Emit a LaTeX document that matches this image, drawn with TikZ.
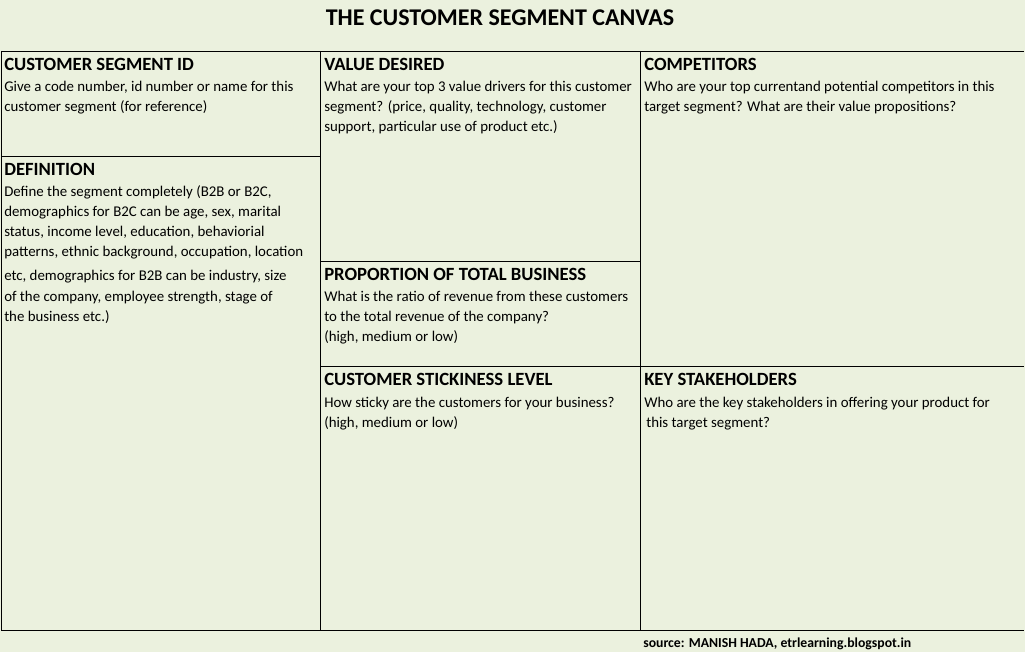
\documentclass[tikz,border=0pt]{standalone}
\usepackage{fontspec}
\setmainfont{Carlito}
\definecolor{bg}{HTML}{EBF1DE}
\begin{document}
\begin{tikzpicture}[x=0.75pt,y=-0.75pt,
  hd/.style={anchor=base west,inner sep=0,font=\fontsize{14}{16}\selectfont\bfseries},
  tx/.style={anchor=base west,inner sep=0,font=\fontsize{11.15}{13}\selectfont},
  ln/.style={draw=black,line width=0.6pt}]
\fill[bg] (0,0) rectangle (1025,652);
\useasboundingbox (0,0) rectangle (1025,652);
\node[inner sep=0,font=\fontsize{18}{21}\selectfont\bfseries] (title) at (500,18) {THE CUSTOMER SEGMENT CANVAS};
\draw[ln] (1,51) -- (1024,51);
\draw[ln] (1,51) -- (1,630);
\draw[ln] (320,51) -- (320,630);
\draw[ln] (640,51) -- (640,630);
\draw[ln] (1,630) -- (1024,630);
\draw[ln] (1,156) -- (320,156);
\draw[ln] (320,261) -- (640,261);
\draw[ln] (320,366) -- (1024,366);
% col 1
\node[hd] (h1) at (4,71) {CUSTOMER SEGMENT ID};
\node[tx] (a1) at (4,92) {Give a code number, id number or name for this};
\node[tx] (a2) at (4,112) {customer segment (for reference)};
\node[hd] (h2) at (4,176) {DEFINITION};
\node[tx] (b1) at (4,197) {Define the segment completely (B2B or B2C,};
\node[tx] (b2) at (4,217) {demographics for B2C can be age, sex, marital};
\node[tx] (b3) at (4,237) {status, income level, education, behaviorial};
\node[tx] (b4) at (4,257) {patterns, ethnic background, occupation, location};
\node[tx] (b5) at (4,281) {etc, demographics for B2B can be industry, size};
\node[tx] (b6) at (4,302) {of the company, employee strength, stage of};
\node[tx] (b7) at (4,322) {the business etc.)};
% col 2
\node[hd] (h3) at (324,71) {VALUE DESIRED};
\node[tx] (c1) at (324,92) {What are your top 3 value drivers for this customer};
\node[tx] (c2) at (324,112) {segment? (price, quality, technology, customer};
\node[tx] (c3) at (324,132) {support, particular use of product etc.)};
\node[hd] (h4) at (324,281) {PROPORTION OF TOTAL BUSINESS};
\node[tx] (d1) at (324,302) {What is the ratio of revenue from these customers};
\node[tx] (d2) at (324,322) {to the total revenue of the company?};
\node[tx] (d3) at (324,342) {(high, medium or low)};
\node[hd] (h5) at (324,386) {CUSTOMER STICKINESS LEVEL};
\node[tx] (e1) at (324,407) {How sticky are the customers for your business?};
\node[tx] (e2) at (324,427) {(high, medium or low)};
% col 3
\node[hd] (h6) at (644,71) {COMPETITORS};
\node[tx] (f1) at (644,92) {Who are your top currentand potential competitors in this};
\node[tx] (f2) at (644,112) {target segment? What are their value propositions?};
\node[hd] (h7) at (644,386) {KEY STAKEHOLDERS};
\node[tx] (g1) at (644,407) {Who are the key stakeholders in offering your product for};
\node[tx] (g2) at (646,427) {this target segment?};
\node[anchor=base west,inner sep=0,font=\fontsize{10.3}{12}\selectfont\bfseries] (src) at (643,647) {source: MANISH HADA, etrlearning.blogspot.in};
\end{tikzpicture}
\end{document}
